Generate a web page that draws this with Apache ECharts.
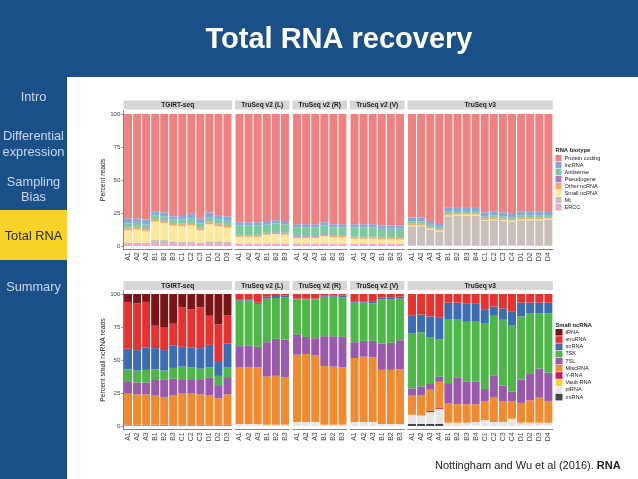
<!DOCTYPE html>
<html><head><meta charset="utf-8">
<script src="https://cdn.jsdelivr.net/npm/echarts@6/dist/echarts.min.js"></script>
<style>
html,body{margin:0;padding:0;background:#1a5088;width:638px;height:479px;overflow:hidden;}
#bg{position:absolute;left:67px;top:77px;width:571px;height:402px;background:#fff;}
#hl{position:absolute;left:0;top:210px;width:67px;height:50px;background:#f5d327;}
#c{position:absolute;left:0;top:0;width:638px;height:479px;}
</style></head><body>
<div id="bg"></div><div id="hl"></div><div id="c"></div>
<script>
// ---------- DATA ----------
const facets = ['TGIRT-seq', 'TruSeq v2 (L)', 'TruSeq v2 (R)', 'TruSeq v2 (V)', 'TruSeq v3'];
const samples = [
  ['A1','A2','A3','B1','B2','B3','C1','C2','C3','D1','D2','D3'],
  ['A1','A2','A3','B1','B2','B3'],
  ['A1','A2','A3','B1','B2','B3'],
  ['A1','A2','A3','B1','B2','B3'],
  ['A1','A2','A3','A4','B1','B2','B3','B4','C1','C2','C3','C4','D1','D2','D3','D4']
];
const yTicks = [0, 25, 50, 75, 100];

// Top panel: RNA biotype (percent reads), values per sample, facets concatenated
const biotypeNames = ['ERCC','Mt','Small ncRNA','Other ncRNA','Pseudogene','Antisense','lncRNA','Protein coding']; // stack bottom -> top
const biotypeLegend = ['Protein coding','lncRNA','Antisense','Pseudogene','Other ncRNA','Small ncRNA','Mt','ERCC'];
const ercc = [1.5,1.5,1.5,1.5,1.5,1.5,1.5,1.5,1.5,1.5,1.5,1.5, 1.5,1.5,1.5,1.5,1.5,1.5, 1.5,1.5,1.5,1.5,1.5,1.5, 1.5,1.5,1.5,1.5,1.5,1.5, 0.5,0.5,0.5,0.5,0.5,0.5,0.5,0.5,0.5,0.5,0.5,0.5,0.5,0.5,0.5,0.5];
const mt = [1,1,1,3,3,2,1.5,1.5,1,2,2,1.5, 0.5,0.5,0.5,0.5,0.5,0.5, 0.5,0.5,0.5,0.5,0.5,0.5, 0.5,0.5,0.5,0.5,0.5,0.5, 14.5,14.5,12,10.5,22,22.5,22.5,22.5,18.5,19,18.5,18,19,19,19,19.5];
const smallNc = [9.5,10,9,14,13,12,12,12.5,9.5,13,11.5,11, 5,5,5,6.5,7,6.5, 4,4,4,5.5,4.5,4.5, 3.5,3.5,3.5,3,3,3, 0.7,0.7,0.7,0.7,0.7,0.7,0.7,0.7,0.7,0.7,0.7,0.7,0.7,0.7,0.7,0.7];
const otherNc = [1.5,1.5,1.5,1.5,1.5,1.5,1.5,1.5,1.5,1.5,1.5,1.5, 1,1,1,1,1,1, 1,1,1,1,1,1, 1,1,1,1,1,1, 1,1,1,1,1,1,1,1,1,1,1,1,1,1,1,1];
const pseudogene = [0.5,0.5,0.5,0.5,0.5,0.5,0.5,0.5,0.5,0.5,0.5,0.5, 0.5,0.5,0.5,0.5,0.5,0.5, 0.5,0.5,0.5,0.5,0.5,0.5, 0.5,0.5,0.5,0.5,0.5,0.5, 0.3,0.3,0.3,0.3,0.3,0.3,0.3,0.3,0.3,0.3,0.3,0.3,0.3,0.3,0.3,0.3];
const antisense = [3,3,3,2.5,3,2.5,3,3.5,3,3.5,3,3, 7,7,7,6.5,6.5,6.5, 6.5,6.5,6.5,6.5,6,6, 7,7,7,6.5,6.5,6.5, 1.5,1.5,1.5,1.5,1.5,1.5,1.5,1.5,1.5,1.5,1.5,1.5,1.5,1.5,1.5,1.5];
const lncRNA = [4,3.5,3.5,3,3,2.5,3.5,3.5,4,3.5,3,3.5, 2.5,2.5,2.5,2.5,2.5,2.5, 2.5,2.5,2.5,2.5,2.5,2.5, 2.5,2.5,2.5,2.5,2.5,2.5, 3,3,3,3,3,3,3,3,3,3,3,3,3,3,3,3];
const proteinCoding = [79,79,80,74,74.5,77.5,76.5,75.5,79,74.5,77,77.5, 82,82,82,81,80.5,81, 83.5,83.5,83.5,82,83.5,83.5, 83.5,83.5,83.5,84.5,84.5,84.5, 78.5,78.5,81,82.5,71,70.5,70.5,70.5,74.5,74,74.5,75,74,74,74,73.5];

// Bottom panel: small ncRNA (percent small ncRNA reads)
const smallNames = ['miRNA','piRNA','Vault RNA','Y-RNA','MiscRNA','7SL','7SK','snRNA','snoRNA','tRNA']; // bottom -> top
const smallLegend = ['tRNA','snoRNA','snRNA','7SK','7SL','MiscRNA','Y-RNA','Vault RNA','piRNA','miRNA'];
const miRNA = [0,0,0,0,0,0,0,0,0,0,0,0, 0,0,0,0,0,0, 0,0,0,0,0,0, 0,0,0,0,0,0, 1.5,1.5,1.5,1.5,0,0,0,0,0,0,0,0,0,0,0,0];
const piRNA = [0.3,0.3,0.3,0.3,0.3,0.3,0.3,0.3,0.3,0.3,0.3,0.3, 1.5,1.5,1.5,1,1,1, 3,3,3,1,1,1, 3,3,3,1.5,1.5,1.5, 7,6.5,9,11.5,2.5,2.5,2.5,3,4.5,3,3,5.5,2.5,2.5,2.5,2.5];
const vaultRNA = [0,0,0,0,0,0,0,0,0,0,0,0, 0,0,0,0,0,0, 0,0,0,0,0,0, 0,0,0,0,0,0, 0,0,0,0,0,0,0,0,0,0,0,0,0,0,0,0];
const yRNA = [0.7,0.7,0.7,0.7,0.7,0.7,0.7,0.7,0.7,0.7,0.7,0.7, 0,0,0,0,0,0, 0,0,0,0,0,0, 0,0,0,0,0,0, 0,0,1,1,0,0,0,0,0,0,0,0,0,0,0,0];
const miscRNA = [23.5,23,23,22,21,22,23.5,23.5,23,22.5,20,23, 43,43,43,36.5,37,36, 51,51.5,50.5,44.5,44,43.5, 48.5,49.5,49,41,41,41.5, 14.5,15.5,16,19.5,14.5,14,14,13.5,14,19,15.5,13,15,17,19,16.5];
const sl7 = [9.5,9,9,12.5,13,13,11,11,11.5,13,10,13, 16,16.5,15.5,26,28,28.5, 15.5,13,13,22.5,23,23, 12,12,12.5,20,20.5,22, 5.5,6.5,5,4,15.5,20,17,17,9.5,16,12,7.5,17.5,20.5,22,21.5];
const sk7 = [9,9,9.5,7.5,7,8,9.5,9,8,8,7,7.5, 34.5,34,32.5,33,31,32, 26.5,28.5,29.5,30,30,30, 30,29,28.5,33.5,33,31.5, 41.5,41,34.5,28,48.5,44.5,45.5,45.5,50,45.5,50,50.5,48,45.5,42,45];
const snRNA = [15.5,15.5,17,16,15.5,17,15,15,15.5,17,10.5,18, 1,1,1,1.5,1.5,1.5, 0.5,0.5,0.5,1,1,1.5, 1,1,1,1.5,1.5,1.5, 13.5,13.5,16,16.5,12.5,12.5,14,14,10,7,8.5,10,10.5,8,8,8];
const snoRNA = [35.5,35.5,34.5,17,17,16.5,30,29,31,22,28.5,21.5, 4,4,6.5,2,1.5,1, 3.5,3.5,3.5,1,1,1, 5.5,5.5,6,2.5,2.5,2, 16.5,15.5,17,18,6.5,6.5,7,7,12,9.5,11,13.5,6.5,6.5,6.5,6.5];
const tRNA = [6,7,6,24,25.5,22.5,10,11.5,10,16.5,23,16, 0,0,0,0,0,0, 0,0,0,0,0,0, 0,0,0,0,0,0, 0,0,0,0,0,0,0,0,0,0,0,0,0,0,0,0];

// ---------- STYLE ----------
const FONT = '"Liberation Sans", Arial, Helvetica, sans-serif';
const topSeries = {
  'ERCC': [ercc, '#f1a7d0'], 'Mt': [mt, '#c8c0b9'], 'Small ncRNA': [smallNc, '#fde89c'],
  'Other ncRNA': [otherNc, '#f6a95e'], 'Pseudogene': [pseudogene, '#a77cc5'],
  'Antisense': [antisense, '#7fc9a1'], 'lncRNA': [lncRNA, '#86a9d9'], 'Protein coding': [proteinCoding, '#f08181']
};
const botSeries = {
  'miRNA': [miRNA, '#454545'], 'piRNA': [piRNA, '#e6e6e6'], 'Vault RNA': [vaultRNA, '#f6d52b'],
  'Y-RNA': [yRNA, '#d41b5a'], 'MiscRNA': [miscRNA, '#f28a30'], '7SL': [sl7, '#9b59ae'],
  '7SK': [sk7, '#4db748'], 'snRNA': [snRNA, '#3c6cb4'], 'snoRNA': [snoRNA, '#e8322f'], 'tRNA': [tRNA, '#7a1517']
};
const rows = [
  {names: biotypeNames, map: topSeries, top: 110.7, title: 'Percent reads', strip: 100.5},
  {names: smallNames, map: botSeries, top: 290.7, title: 'Percent small ncRNA reads', strip: 281}
];
const rowH = 138.6;
const panelLeft = [123.5, 235, 292.5, 350, 407.5];
const panelW = [108.5, 54.5, 54.5, 54.5, 145.4];
const offsets = [];
{ let o = 0; samples.forEach(s => { offsets.push(o); o += s.length; }); }

const grid = [], xAxis = [], yAxis = [], series = [], graphic = [];
rows.forEach((row, r) => {
  facets.forEach((fname, f) => {
    const gi = r * 5 + f;
    grid.push({left: panelLeft[f], top: row.top, width: panelW[f], height: rowH});
    xAxis.push({
      type: 'category', gridIndex: gi, data: samples[f],
      axisLine: {onZero: false, lineStyle: {color: '#333', width: 0.6}},
      axisTick: {alignWithLabel: true, length: 2, lineStyle: {color: '#333', width: 0.6}},
      axisLabel: {rotate: 90, fontSize: 7, color: '#444', margin: 3, interval: 0, fontFamily: FONT}
    });
    yAxis.push({
      type: 'value', gridIndex: gi, min: -2.5, max: 102.5, show: f === 0,
      splitLine: {show: false},
      axisLine: {show: true, lineStyle: {color: '#333', width: 0.6}},
      axisTick: {show: true, length: 2, customValues: yTicks, lineStyle: {color: '#333', width: 0.6}},
      axisLabel: {customValues: yTicks, fontSize: 6.2, color: '#444', margin: 3, fontFamily: FONT},
      name: f === 0 ? row.title : '', nameLocation: 'middle', nameGap: 16,
      nameTextStyle: {fontSize: 6.8, color: '#222', fontFamily: FONT}
    });
    row.names.forEach(n => {
      const [arr, col] = row.map[n];
      series.push({
        type: 'bar', name: n, xAxisIndex: gi, yAxisIndex: gi, stack: 's' + gi,
        data: arr.slice(offsets[f], offsets[f] + samples[f].length),
        itemStyle: {color: col}, barCategoryGap: '12%', emphasis: {disabled: true}, silent: true
      });
    });
    // facet strip
    graphic.push({type: 'rect', shape: {x: panelLeft[f], y: row.strip, width: panelW[f], height: 9},
      style: {fill: '#d6d6d6'}, silent: true});
    graphic.push({type: 'text', x: panelLeft[f] + panelW[f] / 2, y: row.strip + 4.7, silent: true,
      style: {text: fname, fontSize: 6.6, fontWeight: 'bold', fill: '#1a1a1a', fontFamily: FONT, align: 'center', verticalAlign: 'middle'}});
  });
});

// Slide text
graphic.push({type: 'text', x: 339, y: 40, silent: true,
  style: {text: 'Total RNA recovery', fontSize: 29, fontWeight: 'bold', fill: '#ffffff', fontFamily: FONT, align: 'center', verticalAlign: 'middle'}});
const side = [['Intro', 97], ['Differential', 136], ['expression', 152], ['Sampling', 182], ['Bias', 197], ['Summary', 287]];
side.forEach(([t, y]) => graphic.push({type: 'text', x: 33.5, y: y, silent: true,
  style: {text: t, fontSize: 12.8, fill: '#ccd8ea', fontFamily: FONT, align: 'center', verticalAlign: 'middle'}}));
graphic.push({type: 'text', x: 33.5, y: 236, silent: true,
  style: {text: 'Total RNA', fontSize: 12.8, fill: '#2a2a2a', fontFamily: FONT, align: 'center', verticalAlign: 'middle'}});
graphic.push({type: 'text', x: 435, y: 466, silent: true,
  style: {text: '{a|Nottingham and Wu et al (2016). }{b|RNA}', verticalAlign: 'middle',
    rich: {a: {fontSize: 11, fill: '#222', fontFamily: FONT}, b: {fontSize: 11, fontWeight: 'bold', fill: '#222', fontFamily: FONT}}}});
// Legend titles
graphic.push({type: 'text', x: 555.5, y: 150, silent: true,
  style: {text: 'RNA biotype', fontSize: 5.8, fontWeight: 'bold', fill: '#1a1a1a', fontFamily: FONT, verticalAlign: 'middle'}});
graphic.push({type: 'text', x: 555.5, y: 325, silent: true,
  style: {text: 'Small ncRNA', fontSize: 5.8, fontWeight: 'bold', fill: '#1a1a1a', fontFamily: FONT, verticalAlign: 'middle'}});

const legendBase = {orient: 'vertical', icon: 'rect', itemWidth: 6, itemHeight: 6.4, itemGap: 0.6, padding: 0,
  selectedMode: false, textStyle: {fontSize: 5.6, color: '#222', fontFamily: FONT, lineHeight: 6.4, padding: [0, 0, 0, -2]}};

const chart = echarts.init(document.getElementById('c'), null, {renderer: 'canvas'});
chart.setOption({
  animation: false,
  backgroundColor: 'transparent',
  grid, xAxis, yAxis, series, graphic,
  legend: [
    Object.assign({}, legendBase, {data: biotypeLegend, left: 555.5, top: 155}),
    Object.assign({}, legendBase, {data: smallLegend, left: 555.5, top: 329, itemWidth: 7, itemHeight: 6.6})
  ]
});
</script>
</body></html>
